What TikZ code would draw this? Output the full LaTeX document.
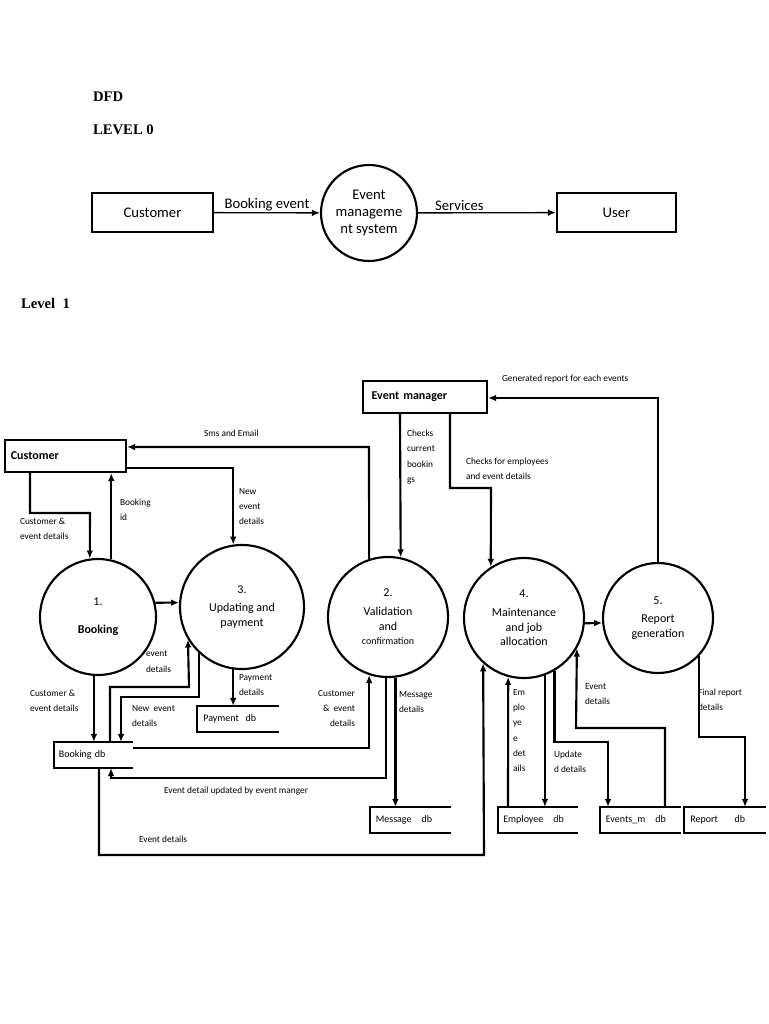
\documentclass[tikz,border=0pt]{standalone}
\usepackage{fontspec}
\setmainfont{Carlito}
\newfontfamily\headfont{Liberation Serif}
\usetikzlibrary{arrows.meta}

\begin{document}
\begin{tikzpicture}[x=0.75pt, y=-0.75pt,
  line width=1.6pt,
  arr/.style={-{Latex[length=6pt,width=5pt]}},
  ent/.style={draw, minimum width=#1*0.75pt, minimum height=24pt, inner sep=0pt},
  proc/.style={draw, circle, minimum size=#1*0.75pt, inner sep=0pt, align=center, font=\fontsize{9}{11}\selectfont},
  store/.style={minimum width=#1*0.75pt, minimum height=18pt, inner sep=0pt, font=\fontsize{7.5}{9}\selectfont},
  lbl/.style={font=\fontsize{7}{11.5}\selectfont, align=left, inner sep=0pt, anchor=north west},
  head/.style={font=\headfont\bfseries\fontsize{11}{13}\selectfont, anchor=west, inner sep=0pt}
]
\useasboundingbox (0,0) rectangle (768,1024);

% --- Level 0 ---
\node[head] (dfd) at (92,97) {DFD};
\node[head] (lv0) at (92,130) {LEVEL 0};
\node[ent=121, minimum height=29pt, font=\fontsize{11}{13}\selectfont] (cust0) at (152.5,212.5) {Customer};
\node[proc=96, font=\fontsize{11}{13}\selectfont] (ems) at (369,213) {Event\\manageme\\nt system};
\node[ent=119, minimum height=29pt, font=\fontsize{11}{13}\selectfont] (user0) at (616.5,212.5) {User};
\draw[arr, line width=1pt] (cust0) -- node[above, font=\fontsize{11}{13}\selectfont, inner sep=1pt] {Booking event} (ems);
\draw[arr, line width=1pt] (ems) -- node[above, font=\fontsize{11}{13}\selectfont, inner sep=1pt, pos=0.3] {Services} (user0);

\node[head] (lv1) at (20,303) {Level\ \ 1};

% --- Level 1 entities ---
\node[ent=124, font=\fontsize{9}{11}\selectfont\bfseries, minimum height=24pt, text width=80pt] (em) at (425,397) {Event manager};
\node[ent=121, font=\fontsize{9}{11}\selectfont\bfseries, minimum height=24pt, text width=82pt] (cust) at (65.5,456) {Customer};

% --- processes ---
\node[proc=116] (c1) at (98,617) {1.\\[10pt]\textbf{Booking}};
\node[proc=124] (c3) at (242,607) {3.\\[3pt]Updating and\\payment};
\node[proc=120] (c2) at (388,617) {2.\\[3pt]Validation\\and\\{\fontsize{7.5}{9}\selectfont confirmation}};
\node[proc=120] (c4) at (524,618) {4.\\[3pt]Maintenance\\and job\\allocation};
\node[proc=110] (c5) at (658,618) {5.\\[3pt]Report\\generation};

% --- data stores ---
\node[store=77, text width=52pt] (bdb) at (93.5,755) {Booking db};
\node[store=80, text width=52pt] (pdb) at (238,719) {Payment\ \ db};
\node[store=79, text width=52pt] (mdb) at (410.5,820) {Message\ \ \ db};
\node[store=78, text width=52pt] (edb) at (538,820) {Employee\ \ \ db};
\node[store=79, text width=52pt] (evdb) at (640.5,820) {Events\_m\ \ \ db};
\node[store=80, text width=52pt] (rdb) at (725,820) {Report\ \ \ \ \ db};
\foreach \s in {bdb,pdb,mdb,edb,evdb,rdb}
  \draw (\s.north east) -- (\s.north west) -- (\s.south west) -- (\s.south east);

% --- flows ---
\draw[arr] (c2.108) -- (369,447) -- (cust.east |- 0,447);
\node[lbl] (l1) at (203,429) {Sms and Email};

\draw[arr] (cust.south -| 30,0) |- (90,513) -- (c1.98);
\node[lbl] (l2) at (19,517) {Customer \&\\event details};

\draw[arr] (c1.77) -- (cust.south -| c1.77);
\node[lbl] (l3) at (119,498) {Booking\\id};

\draw[arr] (cust.east |- 0,468) -| (c3.98);
\node[lbl] (l4) at (238,487) {New\\event\\details};

\draw[arr] (c1.14) -- (c3.176);
\node[lbl] (l5) at (145,650) {event\\details};

\draw[arr] (c1.266) -- (bdb.north -| c1.266);
\node[lbl] (l6) at (29,689) {Customer \&\\event details};

\draw[arr] (bdb.north -| 110,0) |- (189,687) -- (c3.211);
\draw[arr] (c3.227) |- (121,697) -- (bdb.north -| 121,0);
\node[lbl] (l7) at (131,704) {New\ \ event\\details};

\draw[arr] (c3.262) -- (pdb.north -| c3.262);
\node[lbl] (l8) at (238,673) {Payment\\details};

\draw[arr] (bdb.east |- 0,748) -| (c2.252);
\node[lbl, align=right, anchor=north east] (l9) at (356,689) {Customer\\\&\ \ event\\details};

\draw[arr] (c2.268) |- (111,778) -- (bdb.south -| 111,0);
\node[lbl] (l10) at (163,786) {Event detail updated by event manger};

\draw[arr] (c2.277) -- (mdb.north -| c2.277);
\node[lbl] (l11) at (398,690) {Message\\details};

\draw[arr] (bdb.south -| 99,0) |- (484,855) -- (c4.228);
\node[lbl] (l12) at (138,835) {Event details};

\draw[arr] (em.south -| 400,0) -- (c2.78);
\node[lbl] (l13) at (406,429) {Checks\\current\\bookin\\gs};

\draw[arr] (em.south -| 450,0) |- (491,488) -- (c4.123);
\node[lbl] (l14) at (465,457) {Checks for employees\\and event details};

\draw[arr] (c5.north) |- (em.east |- 0,398);
\node[lbl] (l15) at (501,374) {Generated report for each events};

\draw[arr] (c4.-5) -- (c5.185);

\draw[arr] (edb.north -| 508,0) -- (c4.255);
\node[lbl] (l16) at (512,688) {Em\\plo\\ye\\e\\det\\ails};

\draw[arr] (c4.290) -- (edb.north -| c4.290);
\node[lbl] (l17) at (553,750) {Update\\d details};

\draw[arr] (c4.300) |- (608,742) -- (evdb.north -| 608,0);
\draw[arr] (evdb.north -| 665,0) |- (576,728) -- (c4.330);
\node[lbl] (l18) at (584,682) {Event\\details};

\draw[arr] (c5.317) |- (745,737) -- (rdb.north -| 745,0);
\node[lbl] (l19) at (697,688) {Final report\\details};
\end{tikzpicture}
\end{document}
